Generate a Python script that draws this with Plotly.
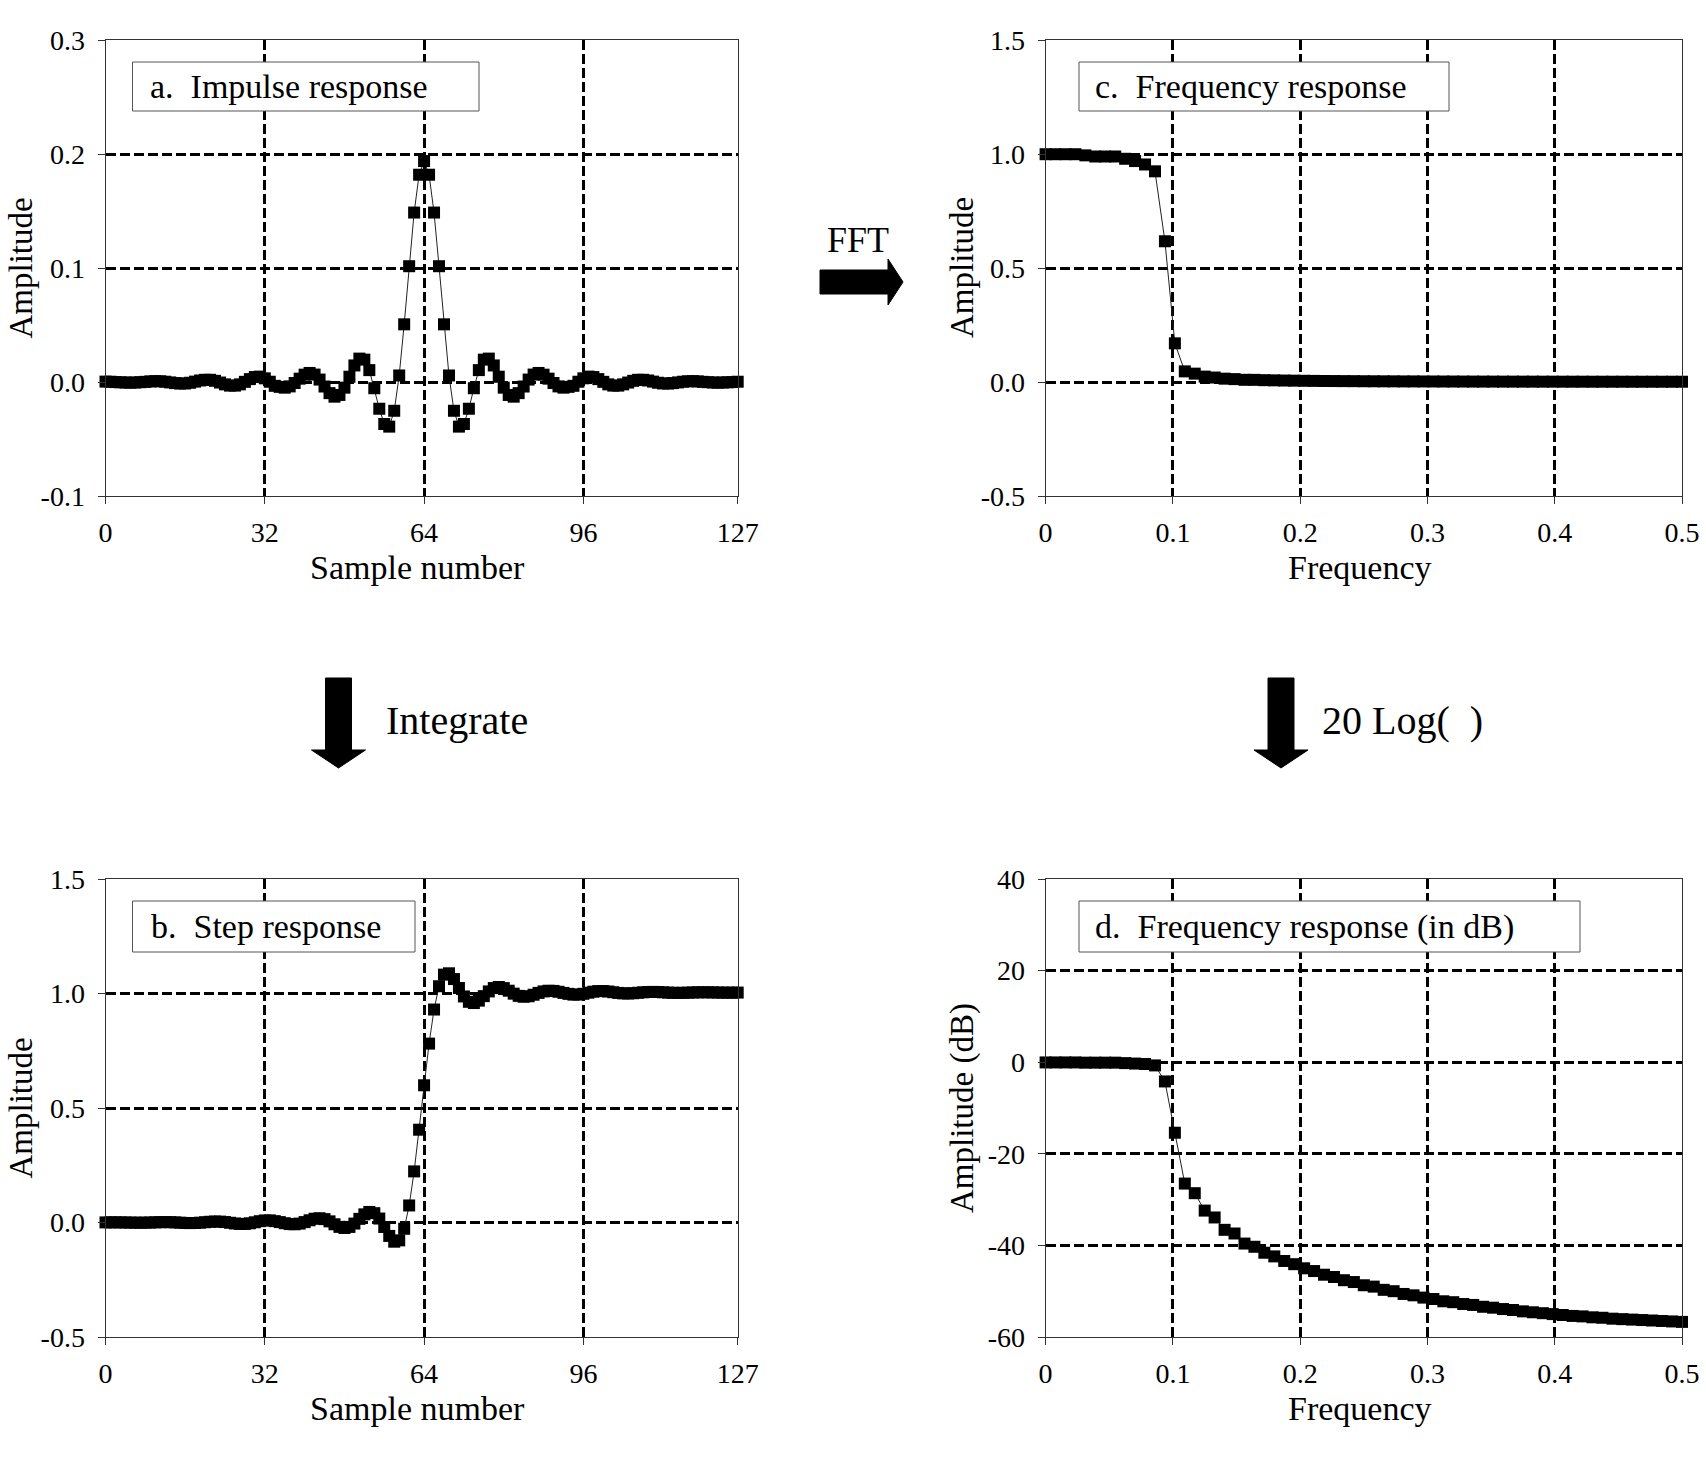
import plotly.graph_objects as go

W, H = 1706, 1474
FONT = "Liberation Serif"

# ---------------- data ----------------
sample_numbers = list(range(128))

impulse_response = [
    0.0004, 0.0003, 0.0000, -0.0002, -0.0004, -0.0005, -0.0004, -0.0001,
    0.0002, 0.0006, 0.0008, 0.0007, 0.0003, -0.0003, -0.0009, -0.0013,
    -0.0012, -0.0006, 0.0004, 0.0014, 0.0020, 0.0020, 0.0011, -0.0004,
    -0.0020, -0.0031, -0.0031, -0.0020, 0.0002, 0.0026, 0.0044, 0.0048,
    0.0033, 0.0003, -0.0033, -0.0042, -0.0049, -0.0038, -0.0008, 0.0030,
    0.0065, 0.0080, 0.0066, 0.0022, -0.0039, -0.0097, -0.0128, -0.0113,
    -0.0049, 0.0047, 0.0146, 0.0206, 0.0197, 0.0105, -0.0054, -0.0234,
    -0.0368, -0.0391, -0.0252, 0.0058, 0.0507, 0.1017, 0.1488, 0.1820,
    0.1940,
    0.1820, 0.1488, 0.1017, 0.0507, 0.0058, -0.0252, -0.0391, -0.0368,
    -0.0234, -0.0054, 0.0105, 0.0197, 0.0206, 0.0146, 0.0047, -0.0049,
    -0.0113, -0.0128, -0.0097, -0.0039, 0.0022, 0.0066, 0.0080, 0.0065,
    0.0030, -0.0008, -0.0038, -0.0049, -0.0042, -0.0033, 0.0003, 0.0033,
    0.0048, 0.0044, 0.0026, 0.0002, -0.0020, -0.0031, -0.0031, -0.0020,
    -0.0004, 0.0011, 0.0020, 0.0020, 0.0014, 0.0004, -0.0006, -0.0012,
    -0.0013, -0.0009, -0.0003, 0.0003, 0.0007, 0.0008, 0.0006, 0.0002,
    -0.0001, -0.0004, -0.0005, -0.0004, -0.0002, 0.0000, 0.0003,
]

step_response = [
    0.0004, 0.0007, 0.0007, 0.0005, 0.0001, -0.0004, -0.0008, -0.0009,
    -0.0007, -0.0001, 0.0007, 0.0014, 0.0017, 0.0014, 0.0005, -0.0008,
    -0.0020, -0.0026, -0.0022, -0.0008, 0.0012, 0.0032, 0.0043, 0.0039,
    0.0019, -0.0012, -0.0043, -0.0063, -0.0061, -0.0035, 0.0009, 0.0057,
    0.0090, 0.0093, 0.0060, 0.0018, -0.0031, -0.0069, -0.0077, -0.0047,
    0.0018, 0.0098, 0.0164, 0.0186, 0.0147, 0.0050, -0.0078, -0.0191,
    -0.0240, -0.0193, -0.0047, 0.0159, 0.0356, 0.0461, 0.0407, 0.0173,
    -0.0195, -0.0586, -0.0838, -0.0780, -0.0273, 0.0744, 0.2232, 0.4052,
    0.5992, 0.7812, 0.9300, 1.0317, 1.0824, 1.0882, 1.0630, 1.0239,
    0.9871, 0.9637, 0.9583, 0.9688, 0.9885, 1.0091, 1.0237, 1.0284,
    1.0235, 1.0122, 0.9994, 0.9897, 0.9858, 0.9880, 0.9946, 1.0026,
    1.0091, 1.0121, 1.0113, 1.0075, 1.0026, 0.9984, 0.9951, 0.9954,
    0.9987, 1.0035, 1.0079, 1.0105, 1.0107, 1.0087, 1.0056, 1.0025,
    1.0005, 1.0001, 1.0012, 1.0032, 1.0052, 1.0066, 1.0070, 1.0064,
    1.0052, 1.0039, 1.0030, 1.0027, 1.0030, 1.0037, 1.0045, 1.0051,
    1.0053, 1.0052, 1.0048, 1.0043, 1.0039, 1.0037, 1.0037, 1.0040,
]

freq_bins = list(range(65))
frequency = [k / 128 for k in freq_bins]

freq_amplitude = [
    1.000, 1.000, 1.000, 1.000, 0.995, 0.990, 0.990, 0.990, 0.980, 0.970,
    0.955, 0.925, 0.618, 0.170, 0.047, 0.037, 0.024, 0.020, 0.015, 0.013,
    0.0100, 0.0097, 0.0083, 0.0076, 0.0068, 0.0062, 0.0056, 0.0052, 0.0048, 0.0045,
    0.0042, 0.0040, 0.0037, 0.0035, 0.0033, 0.0032, 0.0029, 0.0029, 0.0027, 0.0026,
    0.0025, 0.0024, 0.0023, 0.0022, 0.0021, 0.0021, 0.0020, 0.0020, 0.0019, 0.0019,
    0.0018, 0.0018, 0.0017, 0.0017, 0.0017, 0.0016, 0.0016, 0.0016, 0.0016, 0.0015,
    0.0015, 0.0015, 0.0015, 0.0015, 0.0015,
]

freq_db = [
    -0.05, -0.05, -0.05, -0.05, -0.1, -0.1, -0.1, -0.1, -0.2, -0.3,
    -0.4, -0.7, -4.2, -15.4, -26.5, -28.6, -32.4, -33.9, -36.6, -37.4,
    -39.6, -40.3, -41.6, -42.4, -43.4, -44.1, -45.0, -45.6, -46.4, -46.9,
    -47.6, -48.0, -48.7, -49.0, -49.7, -50.0, -50.6, -50.9, -51.4, -51.7,
    -52.2, -52.4, -52.8, -53.0, -53.4, -53.6, -53.9, -54.1, -54.4, -54.6,
    -54.8, -55.0, -55.2, -55.4, -55.5, -55.7, -55.8, -56.0, -56.1, -56.2,
    -56.3, -56.4, -56.5, -56.6, -56.7,
]

sample_ticks = [0, 32, 64, 96, 127]
freq_ticks = [0, 0.1, 0.2, 0.3, 0.4, 0.5]
freq_tick_text = ["0", "0.1", "0.2", "0.3", "0.4", "0.5"]
impulse_ticks = [-0.1, 0.0, 0.1, 0.2, 0.3]
impulse_tick_text = ["-0.1", "0.0", "0.1", "0.2", "0.3"]
amp_ticks = [-0.5, 0.0, 0.5, 1.0, 1.5]
amp_tick_text = ["-0.5", "0.0", "0.5", "1.0", "1.5"]
db_ticks = [-60, -40, -20, 0, 20, 40]
db_tick_text = ["-60", "-40", "-20", "0", "20", "40"]

# ---------------- helpers ----------------
def px(x):
    return x / W


def py(y):
    return 1 - y / H


fig = go.Figure()


def add(x, y, xa, ya):
    fig.add_trace(go.Scatter(
        x=x, y=y, xaxis=xa, yaxis=ya, mode="lines+markers",
        line=dict(color="#222", width=1),
        marker=dict(symbol="square", size=12, color="black"),
        cliponaxis=False, showlegend=False, hoverinfo="skip"))


add(sample_numbers, impulse_response, "x", "y")
add(frequency, freq_amplitude, "x2", "y2")
add(sample_numbers, step_response, "x3", "y3")
add(frequency, freq_db, "x4", "y4")


def ax(**kw):
    d = dict(showline=True, linecolor="#333", linewidth=1, mirror=True,
             ticks="outside", ticklen=7, tickwidth=1, tickcolor="#333",
             showgrid=True, gridcolor="black", gridwidth=2.5, griddash="10px,4px",
             zeroline=False, tickfont=dict(family=FONT, size=28, color="black"),
             tickmode="array", fixedrange=True, automargin=False)
    d.update(kw)
    return d


LX = [px(105.5), px(737.7)]
RX = [px(1045.6), px(1682)]
TY = [py(496), py(40.3)]
BY = [py(1337), py(879)]

xs = dict(ticklabelstandoff=4)
ys = dict(ticklabelstandoff=7)

fig.update_layout(
    width=W, height=H, margin=dict(l=0, r=0, t=0, b=0, pad=0, autoexpand=False),
    autosize=False,
    paper_bgcolor="white", plot_bgcolor="white",
    xaxis=ax(domain=LX, range=[0, 127], anchor="y", tickvals=sample_ticks,
             ticktext=[str(v) for v in sample_ticks], **xs),
    yaxis=ax(domain=TY, range=[-0.1, 0.3], anchor="x", tickvals=impulse_ticks,
             ticktext=impulse_tick_text, **ys),
    xaxis2=ax(domain=RX, range=[0, 0.5], anchor="y2", tickvals=freq_ticks,
              ticktext=freq_tick_text, **xs),
    yaxis2=ax(domain=TY, range=[-0.5, 1.5], anchor="x2", tickvals=amp_ticks,
              ticktext=amp_tick_text, **ys),
    xaxis3=ax(domain=LX, range=[0, 127], anchor="y3", tickvals=sample_ticks,
              ticktext=[str(v) for v in sample_ticks], **xs),
    yaxis3=ax(domain=BY, range=[-0.5, 1.5], anchor="x3", tickvals=amp_ticks,
              ticktext=amp_tick_text, **ys),
    xaxis4=ax(domain=RX, range=[0, 0.5], anchor="y4", tickvals=freq_ticks,
              ticktext=freq_tick_text, **xs),
    yaxis4=ax(domain=BY, range=[-60, 40], anchor="x4", tickvals=db_ticks,
              ticktext=db_tick_text, **ys),
)

annotations = []
shapes = []


def text(x, y, s, size, angle=0, xanchor="center"):
    annotations.append(dict(
        x=px(x), y=py(y), xref="paper", yref="paper", text=s, showarrow=False,
        textangle=angle, xanchor=xanchor, yanchor="middle",
        font=dict(family=FONT, size=size, color="black")))


# axis titles
text(20.5, 268, "Amplitude", 33, -90)
text(20.5, 1108, "Amplitude", 33, -90)
text(962, 268, "Amplitude", 33, -90)
text(962, 1108, "Amplitude (dB)", 33, -90)
text(417, 567, "Sample number", 34)
text(417, 1408, "Sample number", 34)
text(1360, 567, "Frequency", 34)
text(1360, 1408, "Frequency", 34)

# panel label boxes
boxes = [
    (132.5, 62, 479, 111, 147.5, "a.\u00a0\u00a0Impulse response"),
    (1079, 62, 1449, 111, 1093, "c.\u00a0\u00a0Frequency response"),
    (132.5, 901, 415, 952, 148.5, "b.\u00a0\u00a0Step response"),
    (1079, 901, 1580, 952, 1093, "d.\u00a0\u00a0Frequency response (in dB)"),
]
for x0, y0, x1, y1, tx, s in boxes:
    shapes.append(dict(type="rect", xref="paper", yref="paper",
                       x0=px(x0), x1=px(x1), y0=py(y0), y1=py(y1),
                       line=dict(color="#555", width=1), fillcolor="white", layer="above"))
    text(tx, (y0 + y1) / 2, s, 34, xanchor="left")

# transformation arrows
text(857.5, 240, "FFT", 36)
text(384, 720, "Integrate", 40, xanchor="left")
text(1320, 720, "20 Log(\u00a0\u00a0)", 40, xanchor="left")


def path(points):
    d = "M " + " L ".join(f"{px(a):.5f},{py(b):.5f}" for a, b in points) + " Z"
    return dict(type="path", xref="paper", yref="paper", path=d,
                fillcolor="black", line=dict(color="black", width=1), layer="above")


shapes.append(path([(820, 270), (888, 270), (888, 259), (903, 282),
                    (888, 305), (888, 294), (820, 294)]))
for cx in (338.5, 1281):
    shapes.append(path([(cx - 13, 678), (cx + 13, 678), (cx + 13, 750),
                        (cx + 27, 750), (cx, 768), (cx - 27, 750), (cx - 13, 750)]))

fig.update_layout(annotations=annotations, shapes=shapes)

fig.write_html("out.html")
